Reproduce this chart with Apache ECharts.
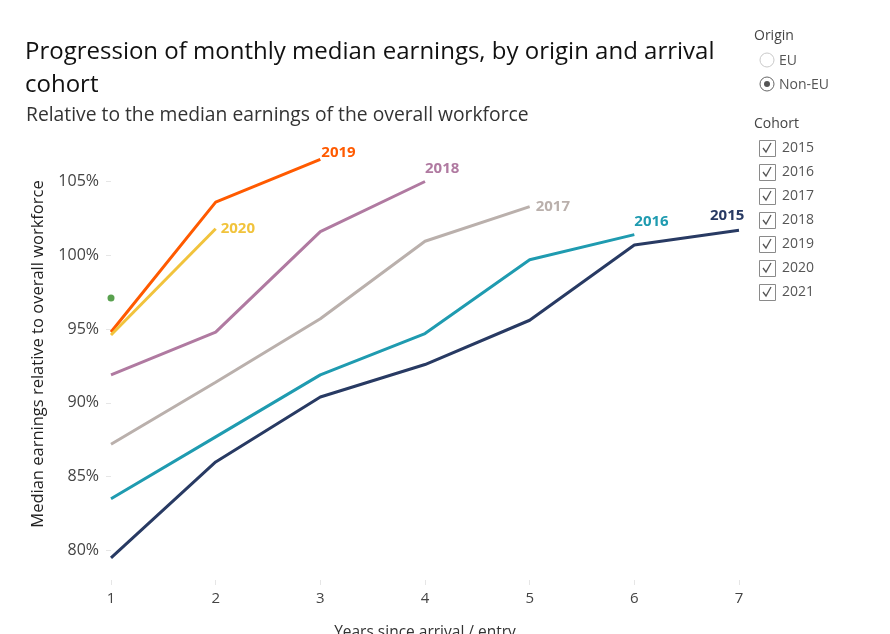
<!DOCTYPE html>
<html>
<head>
<meta charset="utf-8">
<script src="https://cdn.jsdelivr.net/npm/echarts@6/dist/echarts.min.js"></script>
<style>
  html, body { margin: 0; padding: 0; background: #fff; }
  #chart { width: 890px; height: 634px; }
</style>
</head>
<body>
<div id="chart"></div>
<script>
// years since arrival
var years = [1, 2, 3, 4, 5, 6, 7];
// median earnings relative to overall workforce (%), per cohort
var c2015 = [79.5, 86.0, 90.4, 92.6, 95.6, 100.7, 101.7];
var c2016 = [83.5, 87.7, 91.9, 94.7, 99.7, 101.4];
var c2017 = [87.2, 91.4, 95.7, 100.95, 103.3];
var c2018 = [91.9, 94.8, 101.6, 105.0];
var c2019 = [94.8, 103.6, 106.5];
var c2020 = [94.6, 101.8];
var c2021 = [97.1];
var cohorts = ['2015', '2016', '2017', '2018', '2019', '2020', '2021'];
var yTicks = [80, 85, 90, 95, 100, 105];

var font = '"Open Sans"';
var myChart = echarts.init(document.getElementById('chart'));

// one line per cohort, with its year written at the end of the line
function cohort(name, values, color, offset) {
  return {
    name: name, type: 'line', color: color,
    data: values.map(function (v, i) { return [years[i], v]; }),
    symbol: 'none', lineStyle: { width: 3, color: color },
    endLabel: {
      show: true, formatter: name, offset: offset, distance: 4,
      color: color, fontWeight: 'bold', fontSize: 15, fontFamily: font
    },
    z: 3
  };
}

var series = [
  cohort('2015', c2015, '#283a63', [-33, -14]),
  cohort('2016', c2016, '#1f9bb0', [-4, -13]),
  cohort('2017', c2017, '#bab0ac', [2, 0]),
  cohort('2018', c2018, '#b07aa1', [-4, -13]),
  cohort('2019', c2019, '#ff5a00', [-3, -7]),
  cohort('2020', c2020, '#f1c33c', [1, 0]),
  {
    name: '2021', type: 'line', data: c2021.map(function (v, i) { return [years[i], v]; }),
    symbol: 'circle', symbolSize: 7, itemStyle: { color: '#59a14f' }, lineStyle: { width: 0 }
  }
];
series[0].markLine = {
  silent: true, symbol: 'none', label: { show: false },
  lineStyle: { color: '#c8c8c8', type: [3, 3], width: 1 },
  data: [[{ coord: [1, 100] }, { coord: [7.06, 100] }]]
};

var checkboxes = [];
cohorts.forEach(function (y, i) {
  var top = 140 + i * 24;
  checkboxes.push({
    type: 'rect', left: 759, top: top, shape: { width: 16, height: 16 },
    style: { fill: '#fff', stroke: '#8a8a8a', lineWidth: 1 }
  });
  checkboxes.push({
    type: 'polyline', shape: { points: [[763, top + 8], [766, top + 12], [771, top + 3]] },
    style: { stroke: '#555', lineWidth: 1.3, fill: null }
  });
  checkboxes.push({
    type: 'text', left: 782, top: top + 1, style: { text: y, fill: '#555', font: '14px ' + font }
  });
});

var option = {
  animation: false,
  title: [
    {
      text: 'Progression of monthly median earnings, by origin and arrival\ncohort',
      left: 20, top: 31,
      textStyle: { fontFamily: font, fontSize: 24, fontWeight: 'normal', color: '#111', lineHeight: 33 }
    },
    {
      text: 'Relative to the median earnings of the overall workforce',
      left: 21, top: 101,
      textStyle: { fontFamily: font, fontSize: 19.3, fontWeight: 'normal', color: '#333' }
    }
  ],
  grid: { left: 111, right: 151, top: 152, bottom: 54, outerBoundsMode: 'none' },
  xAxis: {
    type: 'value', min: 1, max: 7, interval: 1,
    name: 'Years since arrival / entry', nameLocation: 'middle', nameGap: 45,
    nameTextStyle: { fontFamily: font, fontSize: 15.5, color: '#333' },
    axisLine: { show: false },
    axisTick: { show: true, length: 5, lineStyle: { color: '#e6e6e6' } },
    axisLabel: { fontFamily: font, fontSize: 15, color: '#444', margin: 11 },
    splitLine: { show: false }
  },
  yAxis: {
    type: 'value', min: 78, max: 107,
    axisLine: { show: false },
    axisTick: { show: true, length: 5, customValues: yTicks, lineStyle: { color: '#e6e6e6' } },
    axisLabel: {
      fontFamily: font, fontSize: 16, color: '#444', margin: 12,
      customValues: yTicks, formatter: '{value}%'
    },
    splitLine: { show: false }
  },
  graphic: [
    {
      type: 'text', x: 38, y: 354, rotation: Math.PI / 2,
      style: {
        text: 'Median earnings relative to overall workforce', fill: '#222',
        font: '16.5px ' + font, align: 'center', verticalAlign: 'middle'
      }
    },
    { type: 'text', left: 754, top: 29, style: { text: 'Origin', fill: '#444', font: '14px ' + font } },
    { type: 'circle', shape: { cx: 767, cy: 60, r: 7 }, style: { fill: '#fff', stroke: '#c9c9c9', lineWidth: 1 } },
    { type: 'text', left: 779, top: 54, style: { text: 'EU', fill: '#555', font: '14px ' + font } },
    { type: 'circle', shape: { cx: 767, cy: 84, r: 7 }, style: { fill: '#fff', stroke: '#666', lineWidth: 1 } },
    { type: 'circle', shape: { cx: 767, cy: 84, r: 3 }, style: { fill: '#555' } },
    { type: 'text', left: 779, top: 78, style: { text: 'Non-EU', fill: '#555', font: '14px ' + font } },
    { type: 'text', left: 754, top: 117, style: { text: 'Cohort', fill: '#444', font: '14px ' + font } }
  ].concat(checkboxes),
  series: series
};
myChart.setOption(option);
</script>
</body>
</html>
